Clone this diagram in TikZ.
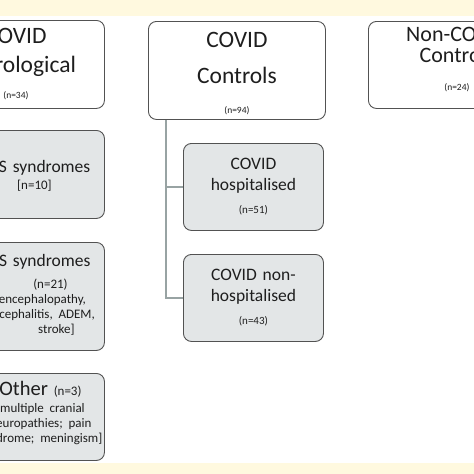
\documentclass[tikz,border=0pt]{standalone}
\usepackage{fontspec}
\setmainfont{Carlito}
\usepackage{tikz}
\usetikzlibrary{positioning}

\definecolor{boxline}{HTML}{525252}
\definecolor{boxgray}{HTML}{E3E6E7}
\definecolor{linkgray}{HTML}{98A3A3}
\definecolor{cream}{HTML}{FFF9DF}
\definecolor{txt}{HTML}{1E1E1E}

\newcommand{\nsmall}{\fontsize{9.5}{12}\selectfont}
\newcommand{\csmall}{\fontsize{11}{14}\selectfont}
\newcommand{\lsmall}{\fontsize{13}{15}\selectfont}

\tikzset{
  box/.style={draw=boxline, line width=0.9pt, rounded corners=8pt, align=center,
    inner xsep=2pt, inner ysep=0pt, anchor=north west, text=txt},
  topbox/.style={box, fill=white, minimum width=177pt, text width=170pt,
    font=\fontsize{23.5}{29}\selectfont},
  subbox/.style={box, fill=boxgray, minimum width=140pt, text width=134pt,
    font=\fontsize{17.5}{21}\selectfont},
  leftbox/.style={subbox, minimum width=128pt, text width=124pt},
  link/.style={draw=linkgray, line width=1.4pt},
}

\begin{document}
\begin{tikzpicture}[x=1pt, y=-1pt]
      % 1. 畫布範圍與上下色帶
      \useasboundingbox (0,0) rectangle (474,474);
      \clip (0,0) rectangle (474,474);
      \fill[cream] (0,0) rectangle (474,16);
      \fill[cream] (0,463) rectangle (474,474);

      % 2. 上排三個方框
      \node[topbox, text height=23pt, text depth=65pt] (neuro) at (-73,20)
        {COVID\\Neurological\\[14pt]\nsmall (n=34)\par};
      \node[topbox, text height=25.7pt, text depth=72.3pt] (ctrl) at (148,21)
        {COVID\\[7.3pt]Controls\\[18pt]\nsmall (n=94)\par};
      \node[topbox, font=\fontsize{22}{27}\selectfont, text height=20pt, text depth=67pt] (nonc) at (368,21)
        {Non-COVID\\[-6pt]Controls\\[16pt]\nsmall (n=24)\par};

      % 3. 左側子方框
      \node[subbox, text height=42pt, text depth=46pt] (pns) at (-36,130)
        {PNS syndromes\\[2pt]\lsmall{}[n=10]\par};
      \node[leftbox, text height=24pt, text depth=84pt] (cns) at (-24,242)
        {\hspace*{-12pt}CNS syndromes\\[7pt]\lsmall\hspace*{20pt}(n=21)\\{}[encephalopathy,\\encephalitis, ADEM,\\\hspace*{32pt}stroke]\par};
      \node[leftbox, text height=22pt, text depth=65pt] (other) at (-24,373)
        {{\fontsize{20.5}{24}\selectfont Other} {\lsmall (n=3)}\\[2pt]\lsmall{}[multiple cranial\\neuropathies; pain\\syndrome; meningism]\par};

      % 4. 對照組子方框
      \node[subbox, text height=26pt, text depth=61pt] (hosp) at (183,143)
        {COVID\\hospitalised\\[9pt]\csmall (n=51)\par};
      \node[subbox, text height=26pt, text depth=61pt] (nonhosp) at (183,254)
        {COVID non-\\hospitalised\\[9pt]\csmall (n=43)\par};

      % 5. 連接線
      \coordinate (trunk) at ([xshift=18pt]ctrl.south west);
      \draw[link] (trunk) |- (nonhosp.west);
      \draw[link] (trunk |- hosp.west) -- (hosp.west);
    \end{tikzpicture}
\end{document}
